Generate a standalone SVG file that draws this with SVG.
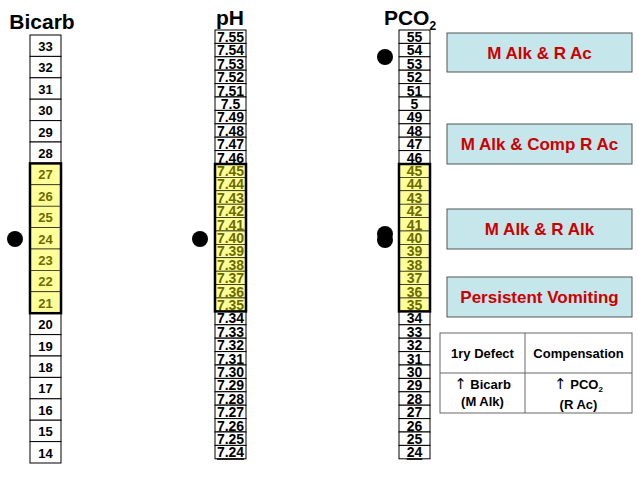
<svg xmlns="http://www.w3.org/2000/svg" width="638" height="478" viewBox="0 0 638 478">
<style>
text{font-family:"Liberation Sans",Arial,sans-serif;font-weight:bold;text-anchor:middle}
.c{fill:#fff;stroke:#000;stroke-width:1}
.y{fill:#ffff99;stroke:#000;stroke-width:0.6}
.t{font-size:13px;fill:#000}
.ty{font-size:13px;fill:#6b6b00}
.p{font-size:14px}
.u{text-decoration:underline}
.hl{fill:none;stroke:#000;stroke-width:2.5}
.box{fill:#c5e6ea;stroke:#555;stroke-width:1}
.bl{font-size:17px;fill:#cc0000}
.h{font-size:21px;fill:#000}
.ar{font-family:"DejaVu Sans",sans-serif;font-weight:normal;font-size:15px}
</style>
<text class="h" x="42" y="29">Bicarb</text>
<text class="h" x="230" y="25">pH</text>
<text class="h" x="410" y="25">PCO<tspan font-size="12" dy="5">2</tspan></text>
<g id="bicarb">
<rect class="c" x="30" y="35" width="31" height="21.4"/><text class="t" x="45.5" y="51">33</text>
<rect class="c" x="30" y="56.4" width="31" height="21.4"/><text class="t" x="45.5" y="72.4">32</text>
<rect class="c" x="30" y="77.8" width="31" height="21.4"/><text class="t" x="45.5" y="93.8">31</text>
<rect class="c" x="30" y="99.2" width="31" height="21.4"/><text class="t" x="45.5" y="115.2">30</text>
<rect class="c" x="30" y="120.6" width="31" height="21.4"/><text class="t" x="45.5" y="136.6">29</text>
<rect class="c" x="30" y="142" width="31" height="21.4"/><text class="t" x="45.5" y="158">28</text>
<rect class="y" x="30" y="163.4" width="31" height="21.4"/><text class="ty" x="45.5" y="179.4">27</text>
<rect class="y" x="30" y="184.8" width="31" height="21.4"/><text class="ty" x="45.5" y="200.8">26</text>
<rect class="y" x="30" y="206.2" width="31" height="21.4"/><text class="ty" x="45.5" y="222.2">25</text>
<rect class="y" x="30" y="227.6" width="31" height="21.4"/><text class="ty" x="45.5" y="243.6">24</text>
<rect class="y" x="30" y="249" width="31" height="21.4"/><text class="ty" x="45.5" y="265">23</text>
<rect class="y" x="30" y="270.4" width="31" height="21.4"/><text class="ty" x="45.5" y="286.4">22</text>
<rect class="y" x="30" y="291.8" width="31" height="21.4"/><text class="ty" x="45.5" y="307.8">21</text>
<rect class="c" x="30" y="313.2" width="31" height="21.4"/><text class="t" x="45.5" y="329.2">20</text>
<rect class="c" x="30" y="334.6" width="31" height="21.4"/><text class="t" x="45.5" y="350.6">19</text>
<rect class="c" x="30" y="356" width="31" height="21.4"/><text class="t" x="45.5" y="372">18</text>
<rect class="c" x="30" y="377.4" width="31" height="21.4"/><text class="t" x="45.5" y="393.4">17</text>
<rect class="c" x="30" y="398.8" width="31" height="21.4"/><text class="t" x="45.5" y="414.8">16</text>
<rect class="c" x="30" y="420.2" width="31" height="21.4"/><text class="t" x="45.5" y="436.2">15</text>
<rect class="c" x="30" y="441.6" width="31" height="21.4"/><text class="t" x="45.5" y="457.6">14</text>
<rect class="hl" x="30" y="163.4" width="31" height="149.8"/>
<circle cx="15" cy="239" r="8"/>
</g>
<g id="ph">
<rect class="c" x="215" y="30" width="31" height="13.4"/><text class="t p u" x="230.5" y="42">7.55</text>
<rect class="c" x="215" y="43.4" width="31" height="13.4"/><text class="t p u" x="230.5" y="55.4">7.54</text>
<rect class="c" x="215" y="56.8" width="31" height="13.4"/><text class="t p u" x="230.5" y="68.8">7.53</text>
<rect class="c" x="215" y="70.2" width="31" height="13.4"/><text class="t p u" x="230.5" y="82.2">7.52</text>
<rect class="c" x="215" y="83.6" width="31" height="13.4"/><text class="t p u" x="230.5" y="95.6">7.51</text>
<rect class="c" x="215" y="97" width="31" height="13.4"/><text class="t p u" x="230.5" y="109">7.5</text>
<rect class="c" x="215" y="110.4" width="31" height="13.4"/><text class="t p u" x="230.5" y="122.4">7.49</text>
<rect class="c" x="215" y="123.8" width="31" height="13.4"/><text class="t p u" x="230.5" y="135.8">7.48</text>
<rect class="c" x="215" y="137.2" width="31" height="13.4"/><text class="t p u" x="230.5" y="149.2">7.47</text>
<rect class="c" x="215" y="150.6" width="31" height="13.4"/><text class="t p u" x="230.5" y="162.6">7.46</text>
<rect class="y" x="215" y="164" width="31" height="13.4"/><text class="ty p u" x="230.5" y="176">7.45</text>
<rect class="y" x="215" y="177.4" width="31" height="13.4"/><text class="ty p u" x="230.5" y="189.4">7.44</text>
<rect class="y" x="215" y="190.8" width="31" height="13.4"/><text class="ty p u" x="230.5" y="202.8">7.43</text>
<rect class="y" x="215" y="204.2" width="31" height="13.4"/><text class="ty p u" x="230.5" y="216.2">7.42</text>
<rect class="y" x="215" y="217.6" width="31" height="13.4"/><text class="ty p u" x="230.5" y="229.6">7.41</text>
<rect class="y" x="215" y="231" width="31" height="13.4"/><text class="ty p u" x="230.5" y="243">7.40</text>
<rect class="y" x="215" y="244.4" width="31" height="13.4"/><text class="ty p u" x="230.5" y="256.4">7.39</text>
<rect class="y" x="215" y="257.8" width="31" height="13.4"/><text class="ty p u" x="230.5" y="269.8">7.38</text>
<rect class="y" x="215" y="271.2" width="31" height="13.4"/><text class="ty p u" x="230.5" y="283.2">7.37</text>
<rect class="y" x="215" y="284.6" width="31" height="13.4"/><text class="ty p u" x="230.5" y="296.6">7.36</text>
<rect class="y" x="215" y="298" width="31" height="13.4"/><text class="ty p u" x="230.5" y="310">7.35</text>
<rect class="c" x="215" y="311.4" width="31" height="13.4"/><text class="t p u" x="230.5" y="323.4">7.34</text>
<rect class="c" x="215" y="324.8" width="31" height="13.4"/><text class="t p u" x="230.5" y="336.8">7.33</text>
<rect class="c" x="215" y="338.2" width="31" height="13.4"/><text class="t p u" x="230.5" y="350.2">7.32</text>
<rect class="c" x="215" y="351.6" width="31" height="13.4"/><text class="t p u" x="230.5" y="363.6">7.31</text>
<rect class="c" x="215" y="365" width="31" height="13.4"/><text class="t p u" x="230.5" y="377">7.30</text>
<rect class="c" x="215" y="378.4" width="31" height="13.4"/><text class="t p u" x="230.5" y="390.4">7.29</text>
<rect class="c" x="215" y="391.8" width="31" height="13.4"/><text class="t p u" x="230.5" y="403.8">7.28</text>
<rect class="c" x="215" y="405.2" width="31" height="13.4"/><text class="t p u" x="230.5" y="417.2">7.27</text>
<rect class="c" x="215" y="418.6" width="31" height="13.4"/><text class="t p u" x="230.5" y="430.6">7.26</text>
<rect class="c" x="215" y="432" width="31" height="13.4"/><text class="t p u" x="230.5" y="444">7.25</text>
<rect class="c" x="215" y="445.4" width="31" height="13.4"/><text class="t p u" x="230.5" y="457.4">7.24</text>
<rect class="hl" x="215" y="164" width="31" height="147.4"/>
<circle cx="200" cy="239" r="8"/>
</g>
<g id="pco2">
<rect class="c" x="399" y="30" width="31" height="13.4"/><text class="t p u" x="414.5" y="42">55</text>
<rect class="c" x="399" y="43.4" width="31" height="13.4"/><text class="t p u" x="414.5" y="55.4">54</text>
<rect class="c" x="399" y="56.8" width="31" height="13.4"/><text class="t p u" x="414.5" y="68.8">53</text>
<rect class="c" x="399" y="70.2" width="31" height="13.4"/><text class="t p u" x="414.5" y="82.2">52</text>
<rect class="c" x="399" y="83.6" width="31" height="13.4"/><text class="t p u" x="414.5" y="95.6">51</text>
<rect class="c" x="399" y="97" width="31" height="13.4"/><text class="t p u" x="414.5" y="109">5</text>
<rect class="c" x="399" y="110.4" width="31" height="13.4"/><text class="t p u" x="414.5" y="122.4">49</text>
<rect class="c" x="399" y="123.8" width="31" height="13.4"/><text class="t p u" x="414.5" y="135.8">48</text>
<rect class="c" x="399" y="137.2" width="31" height="13.4"/><text class="t p u" x="414.5" y="149.2">47</text>
<rect class="c" x="399" y="150.6" width="31" height="13.4"/><text class="t p u" x="414.5" y="162.6">46</text>
<rect class="y" x="399" y="164" width="31" height="13.4"/><text class="ty p u" x="414.5" y="176">45</text>
<rect class="y" x="399" y="177.4" width="31" height="13.4"/><text class="ty p u" x="414.5" y="189.4">44</text>
<rect class="y" x="399" y="190.8" width="31" height="13.4"/><text class="ty p u" x="414.5" y="202.8">43</text>
<rect class="y" x="399" y="204.2" width="31" height="13.4"/><text class="ty p u" x="414.5" y="216.2">42</text>
<rect class="y" x="399" y="217.6" width="31" height="13.4"/><text class="ty p u" x="414.5" y="229.6">41</text>
<rect class="y" x="399" y="231" width="31" height="13.4"/><text class="ty p u" x="414.5" y="243">40</text>
<rect class="y" x="399" y="244.4" width="31" height="13.4"/><text class="ty p u" x="414.5" y="256.4">39</text>
<rect class="y" x="399" y="257.8" width="31" height="13.4"/><text class="ty p u" x="414.5" y="269.8">38</text>
<rect class="y" x="399" y="271.2" width="31" height="13.4"/><text class="ty p u" x="414.5" y="283.2">37</text>
<rect class="y" x="399" y="284.6" width="31" height="13.4"/><text class="ty p u" x="414.5" y="296.6">36</text>
<rect class="y" x="399" y="298" width="31" height="13.4"/><text class="ty p u" x="414.5" y="310">35</text>
<rect class="c" x="399" y="311.4" width="31" height="13.4"/><text class="t p u" x="414.5" y="323.4">34</text>
<rect class="c" x="399" y="324.8" width="31" height="13.4"/><text class="t p u" x="414.5" y="336.8">33</text>
<rect class="c" x="399" y="338.2" width="31" height="13.4"/><text class="t p u" x="414.5" y="350.2">32</text>
<rect class="c" x="399" y="351.6" width="31" height="13.4"/><text class="t p u" x="414.5" y="363.6">31</text>
<rect class="c" x="399" y="365" width="31" height="13.4"/><text class="t p u" x="414.5" y="377">30</text>
<rect class="c" x="399" y="378.4" width="31" height="13.4"/><text class="t p u" x="414.5" y="390.4">29</text>
<rect class="c" x="399" y="391.8" width="31" height="13.4"/><text class="t p u" x="414.5" y="403.8">28</text>
<rect class="c" x="399" y="405.2" width="31" height="13.4"/><text class="t p u" x="414.5" y="417.2">27</text>
<rect class="c" x="399" y="418.6" width="31" height="13.4"/><text class="t p u" x="414.5" y="430.6">26</text>
<rect class="c" x="399" y="432" width="31" height="13.4"/><text class="t p u" x="414.5" y="444">25</text>
<rect class="c" x="399" y="445.4" width="31" height="13.4"/><text class="t p u" x="414.5" y="457.4">24</text>
<rect class="hl" x="399" y="164" width="31" height="147.4"/>
<circle cx="385" cy="57" r="8"/>
<circle cx="385" cy="234" r="8"/>
<circle cx="385" cy="240" r="8"/>
</g>
<g id="box1"><rect class="box" x="447" y="33" width="185" height="39"/><text class="bl" x="539.5" y="59">M Alk &amp; R Ac</text></g>
<g id="box2"><rect class="box" x="447" y="124" width="185" height="40"/><text class="bl" x="539.5" y="150">M Alk &amp; Comp R Ac</text></g>
<g id="box3"><rect class="box" x="447" y="209" width="185" height="40"/><text class="bl" x="539.5" y="235">M Alk &amp; R Alk</text></g>
<g id="box4"><rect class="box" x="447" y="277" width="185" height="40" stroke="#000" stroke-width="3"/><text class="bl" x="539.5" y="303">Persistent Vomiting</text></g>
<g id="table">
<rect x="440" y="333" width="192" height="80" fill="#fff" stroke="#666"/>
<line x1="525" y1="333" x2="525" y2="413" stroke="#666"/>
<line x1="440" y1="373" x2="632" y2="373" stroke="#666"/>
<text class="t" x="482.5" y="358">1ry Defect</text>
<text class="t" x="578.5" y="358">Compensation</text>
<text class="t" x="482.5" y="389"><tspan class="ar">↑</tspan> Bicarb</text>
<text class="t" x="482.5" y="406">(M Alk)</text>
<text class="t" x="578.5" y="389"><tspan class="ar">↑</tspan> PCO<tspan font-size="8" dy="3">2</tspan></text>
<text class="t" x="578.5" y="409">(R Ac)</text>
</g>
</svg>
